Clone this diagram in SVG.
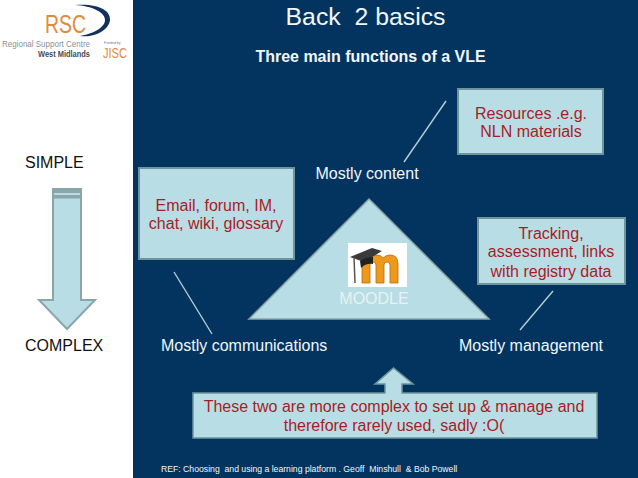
<svg xmlns="http://www.w3.org/2000/svg" width="638" height="478" viewBox="0 0 638 478">
<style>
text{font-family:"Liberation Sans",Arial,sans-serif}
.w{fill:#f2f7f9;font-size:16px}
.k{fill:#111;font-size:16px}
.r{fill:#a81c24;font-size:16px;text-anchor:middle}
.box{fill:#b9dde4;stroke:#6f959c;stroke-width:2}
.ln{stroke:#b4cfd4;stroke-width:1.4;fill:none}
</style>
<rect width="638" height="478" fill="#fff"/>
<rect x="133" y="0" width="505" height="478" fill="#03345f"/>
<g id="logo">
<path d="M75 5C97 3 111 10 110 20C109 30 95 38 80 36C92 34 105 28 105 20C105 12 92 6 75 5Z" fill="#12315c"/>
<text x="45" y="33" style="font-size:25px" fill="#e08a3c" textLength="41" lengthAdjust="spacingAndGlyphs">RSC</text>
<text x="2" y="47" style="font-size:8.600px" fill="#8b8f96" textLength="88" lengthAdjust="spacingAndGlyphs">Regional Support Centre</text>
<text x="38" y="57" style="font-size:8.600px;font-weight:bold" fill="#454a55" textLength="52" lengthAdjust="spacingAndGlyphs">West Midlands</text>
<text x="104" y="44" style="font-size:3.500px" fill="#777">Funded by</text>
<text x="103" y="58" style="font-size:14.500px" fill="#e08a3c" textLength="24" lengthAdjust="spacingAndGlyphs">JISC</text>
</g>
<g id="title"><text x="365.500" y="25" class="w" style="font-size:24.800px" text-anchor="middle" xml:space="preserve">Back  2 basics</text></g>
<g id="subtitle"><text x="370.500" y="62" class="w" style="font-size:16px;font-weight:bold" text-anchor="middle">Three main functions of a VLE</text></g>
<g id="connectors">
<line class="ln" x1="446" y1="101" x2="404" y2="162"/>
<line class="ln" x1="174" y1="272" x2="212" y2="334"/>
<line class="ln" x1="553" y1="291" x2="520" y2="330"/>
</g>
<g id="simple"><text x="25" y="168" class="k">SIMPLE</text></g>
<g id="complex"><text x="25" y="351" class="k">COMPLEX</text></g>
<g id="scale-arrow">
<path d="M53 189H81V300H95L67 329L39 300H53Z" fill="#b9dde4" stroke="#8aa6aa" stroke-width="2"/>
<rect x="53" y="189" width="28" height="4" fill="#8aa6aa"/>
<rect x="53" y="195" width="28" height="3.500" fill="#8aa6aa"/>
</g>
<g id="triangle">
<path d="M249 319L369 199L489 319Z" fill="#b9dde4" stroke="#8aa6aa" stroke-width="1.500"/>
<text x="374" y="304" text-anchor="middle" style="font-size:16px" fill="#e6f3f5">MOODLE</text>
</g>
<g id="moodle-logo">
<rect x="348" y="243" width="59" height="44" fill="#fff"/>
<path d="M362 283V255H370V258Q373 255 377 255Q381 255 383 258Q386 255 390 255Q398 255 398 264V283H390V265Q390 262 387 262Q384 262 384 265V283H376V265Q376 262 373 262Q370 262 370 265V283Z" fill="#ed9a1c" stroke="#b5690f" stroke-width=".8"/>
<path d="M350 257L372 248L382 251L364 262Z" fill="#3a3a3a"/>
<path d="M360 261Q366 257 373 257L373 264Q366 263 361 268Z" fill="#222"/>
<line x1="354" y1="257" x2="355" y2="283" stroke="#555" stroke-width="1.500"/>
</g>
<g id="resources">
<rect class="box" x="458" y="89" width="145" height="65"/>
<text class="r" x="531" y="119">Resources .e.g.</text>
<text class="r" x="531" y="137">NLN materials</text>
</g>
<g id="email">
<rect class="box" x="139" y="168" width="155" height="91"/>
<text class="r" x="216" y="211">Email, forum, IM,</text>
<text class="r" x="216" y="229">chat, wiki, glossary</text>
</g>
<g id="tracking">
<rect class="box" x="478" y="218" width="147" height="66"/>
<text class="r" x="551" y="239">Tracking,</text>
<text class="r" x="551" y="257">assessment, links</text>
<text class="r" x="551" y="277">with registry data</text>
</g>
<g id="content"><text x="367" y="179" class="w" text-anchor="middle">Mostly content</text></g>
<g id="communications"><text x="161" y="351" class="w">Mostly communications</text></g>
<g id="management"><text x="603" y="351" class="w" text-anchor="end">Mostly management</text></g>
<g id="note">
<path d="M193 393H385V384H375L393.500 368L413 384H402V393H597V438H193Z" fill="#b9dde4" stroke="#6f959c" stroke-width="1.500"/>
<text class="r" x="394" y="412">These two are more complex to set up &amp; manage and</text>
<text class="r" x="394" y="431">therefore rarely used, sadly :O(</text>
</g>
<g id="ref"><text x="161" y="472" class="w" style="font-size:8.660px" xml:space="preserve">REF: Choosing  and using a learning platform . Geoff  Minshull  &amp; Bob Powell</text></g>
</svg>
